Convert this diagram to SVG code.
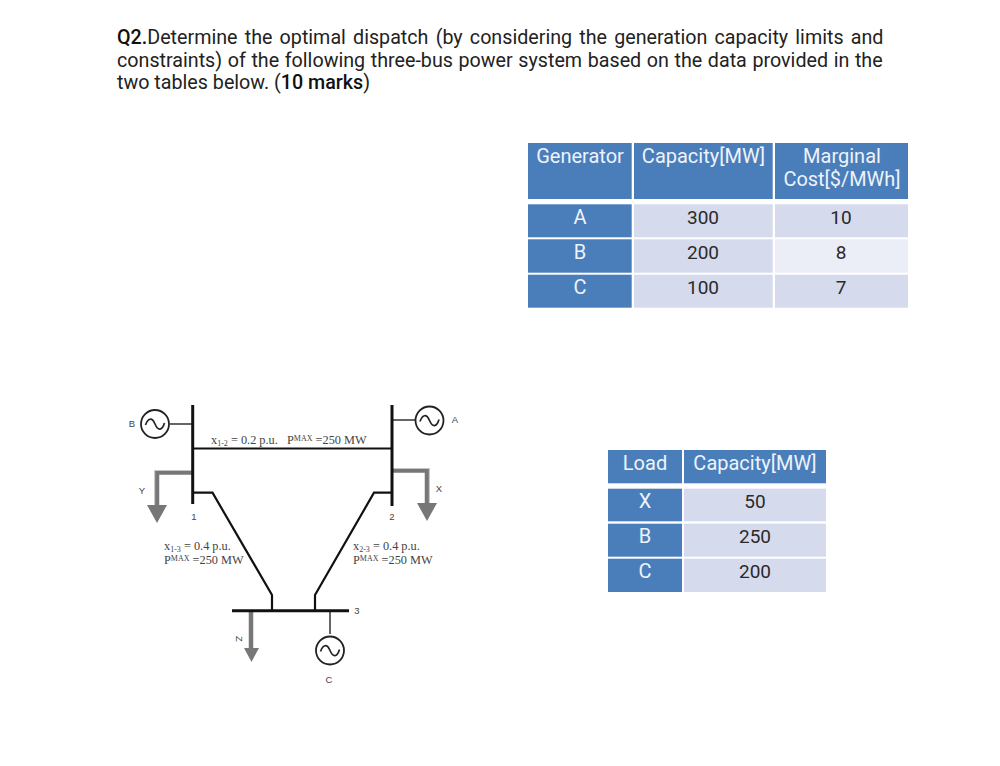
<svg xmlns="http://www.w3.org/2000/svg" width="1000" height="766" viewBox="0 0 1000 766">
<style>
.q{font:19.7px Roboto,"Liberation Sans",sans-serif;fill:#222}
.q tspan.b{font-weight:500;fill:#111}
.th{font:20px Roboto,"Liberation Sans",sans-serif;fill:#eef3fa;text-anchor:middle}
.td{font:19px Roboto,"Liberation Sans",sans-serif;fill:#2a2a2a;text-anchor:middle}
.tw{font:20px Roboto,"Liberation Sans",sans-serif;fill:#eef3fa;text-anchor:middle}
.hd{fill:#4a7ebb}.c1{fill:#d5daed}.c2{fill:#eceef7}
.bus{fill:none;stroke:#111;stroke-width:3}
.ln{fill:none;stroke:#111;stroke-width:2.2}
.wire{fill:none;stroke:#333;stroke-width:1.5}
.load{fill:none;stroke:#777;stroke-width:4.500}
.hi{fill:none;stroke:#c4c4c4;stroke-width:1}
.tip{fill:#777}
.gen{fill:#fff;stroke:#222;stroke-width:1.800}
.wave{fill:none;stroke:#222;stroke-width:1.700}
.lb{font:9.500px "Liberation Sans",Arial,sans-serif;fill:#444;text-anchor:middle}
.sf{font:12.300px "Liberation Serif","Times New Roman",serif;fill:#444}
.sm{font-size:8px}
</style>
<g id="question">
<text class="q" x="117" y="44" word-spacing="2.300"><tspan class="b">Q2.</tspan>Determine the optimal dispatch (by considering the generation capacity limits and</text>
<text class="q" x="117" y="67" word-spacing="0.730">constraints) of the following three-bus power system based on the data provided in the</text>
<text class="q" x="117" y="89">two tables below. (<tspan class="b">10 marks</tspan>)</text>
</g>
<g id="generator-table">
<rect class="hd" x="528" y="143" width="103.700" height="56"/>
<rect class="hd" x="634" y="143" width="138.700" height="56"/>
<rect class="hd" x="775" y="143" width="133" height="56"/>
<rect class="hd" x="528" y="204.300" width="103.700" height="33"/>
<rect class="c1" x="634" y="204.300" width="138.700" height="33"/>
<rect class="c1" x="775" y="204.300" width="133" height="33"/>
<rect class="hd" x="528" y="239.300" width="103.700" height="33.400"/>
<rect class="c1" x="634" y="239.300" width="138.700" height="33.400"/>
<rect class="c2" x="775" y="239.300" width="133" height="33.400"/>
<rect class="hd" x="528" y="274.700" width="103.700" height="33"/>
<rect class="c1" x="634" y="274.700" width="138.700" height="33"/>
<rect class="c1" x="775" y="274.700" width="133" height="33"/>
<text class="th" x="580" y="163">Generator</text>
<text class="th" x="703.500" y="163">Capacity[MW]</text>
<text class="th" x="842" y="163">Marginal</text>
<text class="th" x="842" y="186" textLength="117" lengthAdjust="spacingAndGlyphs">Cost[$/MWh]</text>
<text class="tw" x="580" y="224">A</text><text class="td" x="703" y="224">300</text><text class="td" x="841" y="224">10</text>
<text class="tw" x="580" y="259">B</text><text class="td" x="703" y="259">200</text><text class="td" x="841" y="259">8</text>
<text class="tw" x="580" y="294">C</text><text class="td" x="703" y="294">100</text><text class="td" x="841" y="294">7</text>
</g>
<g id="load-table">
<rect class="hd" x="608" y="450" width="74" height="33.300"/>
<rect class="hd" x="684" y="450" width="142" height="33.300"/>
<rect class="hd" x="608" y="488.700" width="74" height="32.600"/>
<rect class="c1" x="684" y="488.700" width="142" height="32.600"/>
<rect class="hd" x="608" y="523.700" width="74" height="33"/>
<rect class="c1" x="684" y="523.700" width="142" height="33"/>
<rect class="hd" x="608" y="558.700" width="74" height="33.300"/>
<rect class="c1" x="684" y="558.700" width="142" height="33.300"/>
<text class="th" x="645" y="470">Load</text>
<text class="th" x="755" y="470">Capacity[MW]</text>
<text class="tw" x="645" y="508">X</text><text class="td" x="755" y="508">50</text>
<text class="tw" x="645" y="543">B</text><text class="td" x="755" y="543">250</text>
<text class="tw" x="645" y="578">C</text><text class="td" x="755" y="578">200</text>
</g>
<g id="connectors">
<path class="ln" d="M193 448.500H392"/>
<path class="ln" d="M193 492.700H212.500L272 595V610"/>
<path class="ln" d="M392 492.700H374L315 595V610"/>
<path class="wire" d="M170 424H192"/>
<path class="wire" d="M392 420H415"/>
<path class="wire" d="M330 611V634"/>
<path class="load" d="M192 472.500H157V506"/>
<path class="hi" d="M192 470.500H154.700V505"/>
<path class="load" d="M393 470.500H427V504"/>
<path class="hi" d="M393 468.500H429.300V503"/>
<path class="load" d="M251 611V649"/>
</g>
<g id="bus-1"><path class="bus" d="M192.700 405V504"/><text class="lb" x="194" y="520">1</text></g>
<g id="bus-2"><path class="bus" d="M392 405V506"/><text class="lb" x="392" y="520">2</text></g>
<g id="bus-3"><path class="bus" d="M232 610.700H349"/><text class="lb" x="357" y="614">3</text></g>
<g id="gen-b"><circle class="gen" cx="155" cy="424" r="14"/><path class="wave" d="M145.500 425C148 418 152 417 155 424S162 431 164.500 423"/><text class="lb" x="132" y="427">B</text></g>
<g id="gen-a"><circle class="gen" cx="429.500" cy="420.500" r="14"/><path class="wave" d="M420 421.500C422.500 414.500 426.500 413.500 429.500 420.500S436.500 427.500 439 419.500"/><text class="lb" x="455" y="423">A</text></g>
<g id="gen-c"><circle class="gen" cx="330" cy="650.500" r="14"/><path class="wave" d="M320.500 651.500C323 644.500 327 643.500 330 650.500S337 657.500 339.500 649.500"/><text class="lb" x="329" y="683">C</text></g>
<g id="load-y"><path class="tip" d="M147 505H167L157 523Z"/><text class="lb" x="142" y="494">Y</text></g>
<g id="load-x"><path class="tip" d="M417 503H437L427 521Z"/><text class="lb" x="439" y="492">X</text></g>
<g id="load-z"><path class="tip" d="M244 648H259L251.500 662Z"/><text class="lb" transform="translate(235.500 639) rotate(90)" x="0" y="0">Z</text></g>
<g id="label-12"><text class="sf" x="211" y="444">x<tspan class="sm" dy="2">1-2</tspan><tspan dy="-2"> = 0.2 p.u.</tspan></text><text class="sf" x="287" y="444">P<tspan class="sm" dy="-3">MAX</tspan><tspan dy="3"> =250 MW</tspan></text></g>
<g id="label-13"><text class="sf" x="164" y="550">x<tspan class="sm" dy="2">1-3</tspan><tspan dy="-2"> = 0.4 p.u.</tspan></text><text class="sf" x="164" y="564">P<tspan class="sm" dy="-3">MAX</tspan><tspan dy="3"> =250 MW</tspan></text></g>
<g id="label-23"><text class="sf" x="353" y="550">x<tspan class="sm" dy="2">2-3</tspan><tspan dy="-2"> = 0.4 p.u.</tspan></text><text class="sf" x="353" y="564">P<tspan class="sm" dy="-3">MAX</tspan><tspan dy="3"> =250 MW</tspan></text></g>
</svg>
